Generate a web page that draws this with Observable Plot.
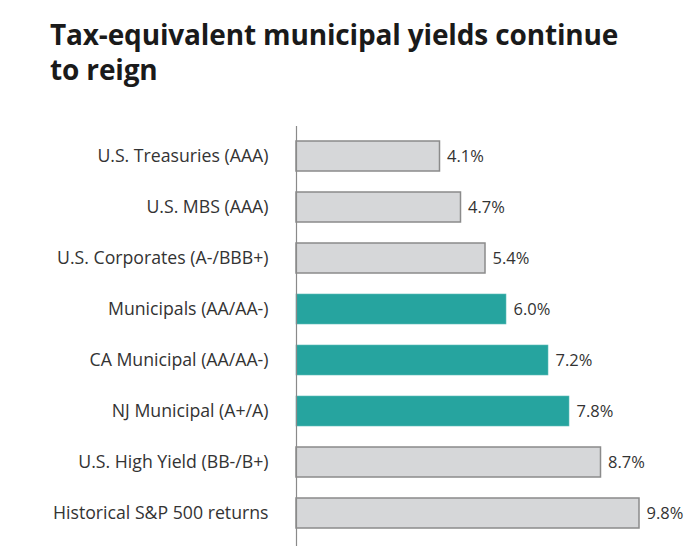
<!DOCTYPE html>
<html>
<head>
<meta charset="utf-8">
<script src="https://cdn.jsdelivr.net/npm/d3@7"></script>
<script src="https://cdn.jsdelivr.net/npm/@observablehq/plot@0.6"></script>
<style>
  body { margin: 0; background: #fff; }
  #title { font-family: "Open Sans", sans-serif; font-weight: 700; font-size: 28px; line-height: 35px; color: #1a1a1a; padding: 17px 0 0 50px; height: 103px; box-sizing: border-box; width: 690px; letter-spacing: -0.15px; }
</style>
</head>
<body>
<div id="title">Tax-equivalent municipal yields continue<br>to reign</div>
<div id="chart"></div>
<script>
const categories = [
  "U.S. Treasuries (AAA)",
  "U.S. MBS (AAA)",
  "U.S. Corporates (A-/BBB+)",
  "Municipals (AA/AA-)",
  "CA Municipal (AA/AA-)",
  "NJ Municipal (A+/A)",
  "U.S. High Yield (BB-/B+)",
  "Historical S&P 500 returns"
];
const yields = [4.1, 4.7, 5.4, 6.0, 7.2, 7.8, 8.7, 9.8];
const highlighted = [false, false, false, true, true, true, false, false];
const valueLabels = ["4.1%", "4.7%", "5.4%", "6.0%", "7.2%", "7.8%", "8.7%", "9.8%"];

const data = categories.map((c, i) => ({category: c, value: yields[i], muni: highlighted[i], label: valueLabels[i]}));
const top0 = 103;

const chart = Plot.plot({
  width: 700,
  height: 546 - top0,
  marginTop: 126 - top0,
  marginBottom: 0,
  marginLeft: 296,
  marginRight: 0,
  style: {fontFamily: "'Open Sans', sans-serif", fontSize: "17px", color: "#333"},
  x: {domain: [0, 10], range: [296, 296 + 350], axis: null},
  y: {domain: categories, range: [130.4 - top0, 539.6 - top0], paddingInner: 0.41, paddingOuter: 0.205, label: null},
  marks: [
    Plot.barX(data, {
      y: "category", x: "value",
      fill: d => d.muni ? "#26a49f" : "#d6d7d9",
      stroke: d => d.muni ? "#5fbdb9" : "#8b8b8b",
      strokeWidth: d => d.muni ? 0.6 : 1.5
    }),
    Plot.ruleX([0], {stroke: "#8a8a8a", strokeWidth: 1.2}),
    Plot.axisY({tickSize: 0, tickPadding: 28, fontSize: 17.7, fill: "#333", label: null}),
    Plot.text(data, {y: "category", x: "value", text: "label", dx: 7, textAnchor: "start", fontSize: 16.5, fill: "#333"})
  ]
});
document.getElementById("chart").appendChild(chart);
</script>
</body>
</html>
